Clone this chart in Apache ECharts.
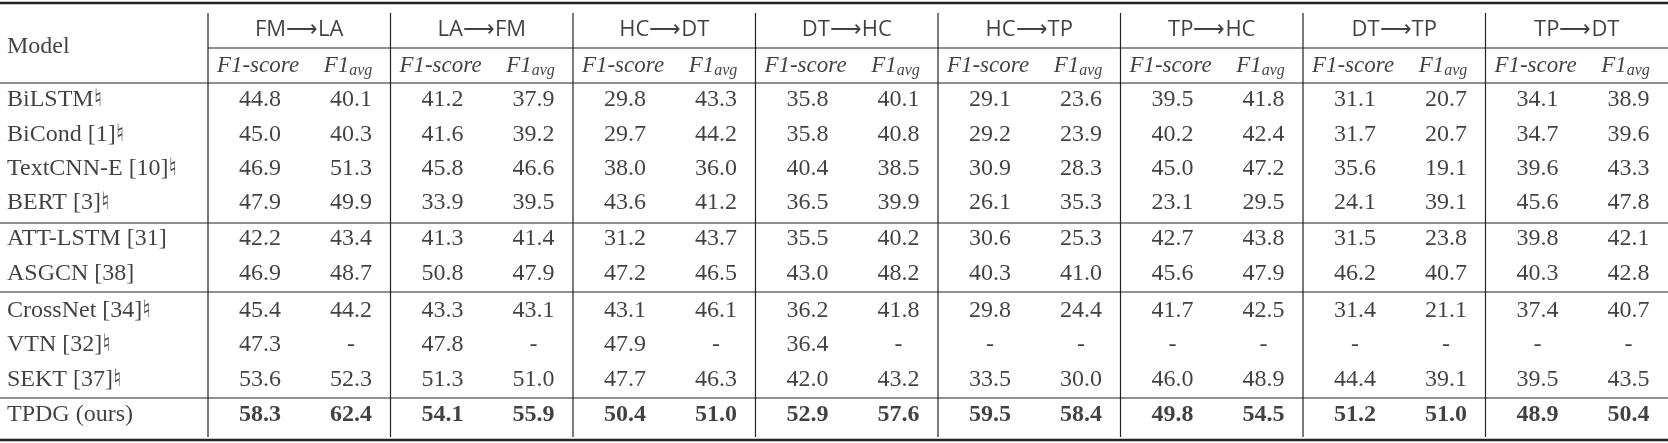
<!DOCTYPE html>
<html>
<head>
<meta charset="utf-8">
<script src="https://cdn.jsdelivr.net/npm/echarts@6/dist/echarts.min.js"></script>
<style>html,body{margin:0;background:#fff}#chart{width:1668px;height:443px}</style>
</head>
<body>
<div id="chart"></div>
<script>
const transfers = ['FM⟶LA', 'LA⟶FM', 'HC⟶DT', 'DT⟶HC', 'HC⟶TP', 'TP⟶HC', 'DT⟶TP', 'TP⟶DT']
const models = ['BiLSTM', 'BiCond [1]', 'TextCNN-E [10]', 'BERT [3]', 'ATT-LSTM [31]', 'ASGCN [38]',
  'CrossNet [34]', 'VTN [32]', 'SEKT [37]', 'TPDG (ours)']
const natural = [true, true, true, true, false, false, true, true, true, false]
// each row: F1-score, F1avg per transfer
const scores = [
  ['44.8','40.1','41.2','37.9','29.8','43.3','35.8','40.1','29.1','23.6','39.5','41.8','31.1','20.7','34.1','38.9'],
  ['45.0','40.3','41.6','39.2','29.7','44.2','35.8','40.8','29.2','23.9','40.2','42.4','31.7','20.7','34.7','39.6'],
  ['46.9','51.3','45.8','46.6','38.0','36.0','40.4','38.5','30.9','28.3','45.0','47.2','35.6','19.1','39.6','43.3'],
  ['47.9','49.9','33.9','39.5','43.6','41.2','36.5','39.9','26.1','35.3','23.1','29.5','24.1','39.1','45.6','47.8'],
  ['42.2','43.4','41.3','41.4','31.2','43.7','35.5','40.2','30.6','25.3','42.7','43.8','31.5','23.8','39.8','42.1'],
  ['46.9','48.7','50.8','47.9','47.2','46.5','43.0','48.2','40.3','41.0','45.6','47.9','46.2','40.7','40.3','42.8'],
  ['45.4','44.2','43.3','43.1','43.1','46.1','36.2','41.8','29.8','24.4','41.7','42.5','31.4','21.1','37.4','40.7'],
  ['47.3','-','47.8','-','47.9','-','36.4','-','-','-','-','-','-','-','-','-'],
  ['53.6','52.3','51.3','51.0','47.7','46.3','42.0','43.2','33.5','30.0','46.0','48.9','44.4','39.1','39.5','43.5'],
  ['58.3','62.4','54.1','55.9','50.4','51.0','52.9','57.6','59.5','58.4','49.8','54.5','51.2','51.0','48.9','50.4']
]

const W = 1668, H = 443
const colLeft = 208, groupW = 182.5
const rowY = [100, 135, 169, 203, 239, 274, 311, 345, 380, 415]
const serif = 'Liberation Serif'

const cells = [], boldCells = []
scores.forEach((row, r) => row.forEach((v, c) => {
  const g = Math.floor(c / 2)
  const x = colLeft + g * groupW + (c % 2 ? 143 : 52)
  ;(r === scores.length - 1 ? boldCells : cells).push([x, rowY[r], v])
}))
const modelCells = models.map((m, r) => [7, rowY[r], m + (natural[r] ? '{n|♮}' : '')])
const groupCells = transfers.map((t, g) => [colLeft + (g + 0.5) * groupW, 30, t])
const subCells = []
transfers.forEach((t, g) => {
  subCells.push([colLeft + g * groupW + 50, 66, '{i|F1-score}'])
  subCells.push([colLeft + g * groupW + 140, 66, '{i|F1}{s|avg}'])
})

const rules = [
  [0, 3, W, 3, 2.5], [0, 440, W, 440, 2.5],
  [colLeft, 48, W, 48, 1.2], [0, 83, W, 83, 1.2],
  [0, 223, W, 223, 1.2], [0, 292, W, 292, 1.2], [0, 398, W, 398, 1.2]
]
for (let g = 0; g < 8; g++) rules.push([colLeft + g * groupW, 13, colLeft + g * groupW, 437, 1.2])

function textSeries(data, label) {
  return {
    type: 'scatter', data, symbolSize: 0, silent: true,
    label: Object.assign({ show: true, position: 'inside', color: '#111', formatter: p => p.value[2] }, label)
  }
}

const chart = echarts.init(document.getElementById('chart'))
chart.setOption({
  animation: false,
  grid: { left: 0, right: 0, top: 0, bottom: 0 },
  xAxis: { type: 'value', min: 0, max: W, show: false },
  yAxis: { type: 'value', min: 0, max: H, inverse: true, show: false },
  series: [
    {
      type: 'custom', data: rules, silent: true,
      renderItem: (params, api) => {
        const a = api.coord([api.value(0), api.value(1)])
        const b = api.coord([api.value(2), api.value(3)])
        return { type: 'line', shape: { x1: a[0], y1: a[1], x2: b[0], y2: b[1] },
          style: { stroke: '#222', lineWidth: api.value(4) } }
      }
    },
    textSeries(cells, { fontFamily: serif, fontSize: 24 }),
    textSeries(boldCells, { fontFamily: serif, fontSize: 24, fontWeight: 'bold' }),
    textSeries(modelCells, { fontFamily: serif, fontSize: 24, position: 'right', distance: 0,
      rich: { n: { fontFamily: 'DejaVu Sans', fontSize: 24, color: '#111' } } }),
    textSeries(groupCells, { fontFamily: 'Open Sans', fontSize: 22 }),
    textSeries([[7, 47, 'Model']], { fontFamily: serif, fontSize: 24, position: 'right', distance: 0 }),
    textSeries(subCells, { rich: {
      i: { fontFamily: serif, fontStyle: 'italic', fontSize: 23, color: '#111' },
      s: { fontFamily: serif, fontStyle: 'italic', fontSize: 16, color: '#111', padding: [10, 0, 0, 0] }
    } })
  ]
})
</script>
</body>
</html>
